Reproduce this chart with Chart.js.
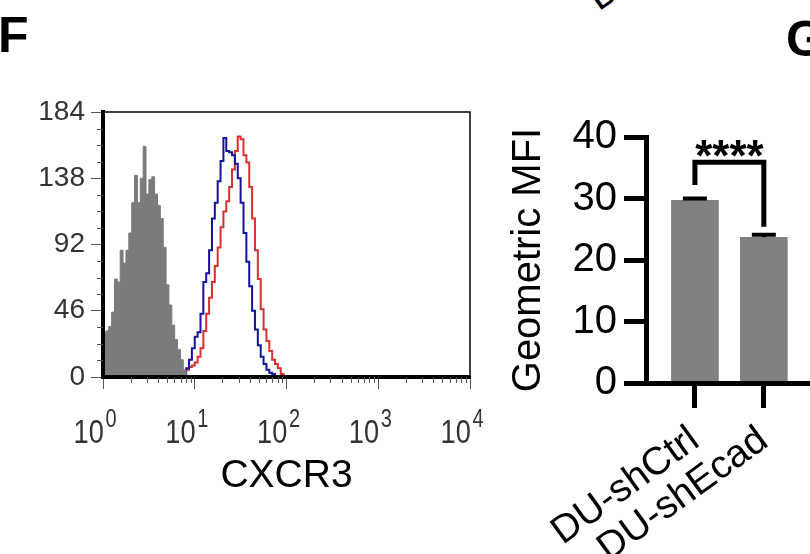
<!DOCTYPE html>
<html lang="en">
<head>
<meta charset="UTF-8" />
<title>CXCR3 / Geometric MFI</title>
<script src="https://cdn.jsdelivr.net/npm/chart.js@4.4.0/dist/chart.umd.min.js"></script>
<style>
  html, body {
    margin: 0;
    padding: 0;
    background: #fff;
    width: 810px;
    height: 554px;
    overflow: hidden;
    position: relative;
    font-family: "Liberation Sans", Arial, sans-serif;
  }
  .panel-label {
    position: absolute;
    font-weight: bold;
    font-size: 50px;
    line-height: 1;
    color: #000;
  }
  .frag {
    position: absolute;
    font-size: 40px;
    line-height: 1;
    transform: rotate(-35deg);
  }
  #wrapF { position: absolute; left: 0; top: 0; width: 500px; height: 554px; }
  #wrapG { position: absolute; left: 490px; top: 0; width: 340px; height: 554px; }
</style>
</head>
<body>
<div class="panel-label" style="left: -2px; top: 10px">F</div>
<div class="panel-label" style="left: 786px; top: 14px">G</div>
<div class="frag" style="left: 588px; top: -28px">D</div>

<div id="wrapF"><canvas id="histChart"></canvas></div>
<div id="wrapG"><canvas id="barChart"></canvas></div>

<script>
// ---- panel F: CXCR3 histograms, counts per channel (32 channels per decade)
const channelsPerDecade = 32;
const decades = [1, 10, 100, 1000, 10000];
const countTicks = [0, 46, 92, 138, 184];

const isoStart = 0;
const isoCounts = [30, 32, 35, 45, 68, 66, 88, 79, 88, 100, 121, 140, 121, 138, 160,
  127, 137, 139, 127, 119, 110, 90, 64, 50, 36, 26, 19, 12, 5];

const ecadStart = 27; // DU-shEcad, blue
const ecadCounts = [1, 3, 6, 12, 20, 28, 31, 44, 66, 72, 88, 110, 121, 136, 150, 166,
  157, 156, 154, 148, 138, 121, 100, 80, 63, 46, 33, 22, 14, 9, 5, 3, 2];

const ctrlStart = 28; // DU-shCtrl, red
const ctrlCounts = [2, 5, 7, 8, 10, 14, 20, 32, 44, 55, 66, 77, 90, 104, 115, 122, 132,
  144, 157, 167, 165, 154, 149, 132, 110, 88, 68, 47, 33, 25, 18, 12, 9, 6, 2];

// ---- panel G: geometric MFI
const groups = ["DU-shCtrl", "DU-shEcad"];
const mfiMean = [29.7, 23.7];
const mfiErr = [0.3, 0.4];
const mfiTicks = [0, 10, 20, 30, 40];
const sigLabel = "****";
const sigBracket = [32.2, 35.9, 25.4]; // left foot, top, right foot

const narrow = '"Liberation Sans Narrow", "Arial Narrow", "Liberation Sans", sans-serif';
const sans = '"Liberation Sans", Arial, sans-serif';

function stepPoints(start, counts) {
  const edge = (i) => Math.pow(10, i / channelsPerDecade);
  const pts = [{ x: edge(start), y: 0 }];
  counts.forEach((c, i) => pts.push({ x: edge(start + i), y: c }));
  pts.push({ x: edge(start + counts.length), y: 0 });
  return pts;
}

// frame, minor ticks and 10^n labels for the histogram
const histExtras = {
  id: "histExtras",
  afterDraw(chart) {
    const { ctx, chartArea: a } = chart;
    const xs = chart.scales.x, ys = chart.scales.y;
    ctx.save();
    ctx.strokeStyle = "#000";
    ctx.lineWidth = 1.5;
    ctx.beginPath();
    ctx.moveTo(a.left, a.top);
    ctx.lineTo(a.right, a.top);
    ctx.lineTo(a.right, a.bottom);
    ctx.stroke();

    ctx.strokeStyle = "#555";
    ctx.lineWidth = 1;
    ctx.beginPath();
    for (let d = 1; d < 10000; d *= 10) {
      for (let m = 2; m < 10; m++) {
        const px = Math.round(xs.getPixelForValue(m * d)) + 0.5;
        ctx.moveTo(px, a.bottom);
        ctx.lineTo(px, a.bottom + 6);
      }
    }
    for (let v = 11.5; v < 184; v += 11.5) {
      if (v % 46 === 0) continue;
      const py = Math.round(ys.getPixelForValue(v)) + 0.5;
      ctx.moveTo(a.left - 6, py);
      ctx.lineTo(a.left, py);
    }
    ctx.stroke();

    ctx.fillStyle = "#333";
    ctx.textBaseline = "alphabetic";
    decades.forEach((v, e) => {
      const px = xs.getPixelForValue(v);
      ctx.save();
      ctx.translate(px, a.bottom);
      ctx.scale(0.8, 1);
      ctx.font = "34px " + narrow;
      ctx.textAlign = "right";
      ctx.fillText("10", 1, 66);
      ctx.font = "25px " + narrow;
      ctx.textAlign = "left";
      ctx.fillText(String(e), 3, 50);
      ctx.restore();
    });
    ctx.restore();
  }
};

new Chart(document.getElementById("histChart"), {
  type: "line",
  data: {
    datasets: [
      {
        label: "Isotype",
        data: stepPoints(isoStart, isoCounts),
        stepped: true,
        fill: "origin",
        backgroundColor: "#7b7b7b",
        borderColor: "#7b7b7b",
        borderWidth: 1,
        pointRadius: 0
      },
      {
        label: "DU-shEcad",
        data: stepPoints(ecadStart, ecadCounts),
        stepped: true,
        fill: false,
        borderColor: "#12129a",
        borderWidth: 2,
        pointRadius: 0
      },
      {
        label: "DU-shCtrl",
        data: stepPoints(ctrlStart, ctrlCounts),
        stepped: true,
        fill: false,
        borderColor: "#d83030",
        borderWidth: 2,
        pointRadius: 0
      }
    ]
  },
  options: {
    responsive: true,
    maintainAspectRatio: false,
    animation: false,
    layout: { padding: { top: 112, right: 30, left: 0, bottom: 0 } },
    plugins: { legend: { display: false }, tooltip: { enabled: false } },
    scales: {
      x: {
        type: "logarithmic",
        min: 1,
        max: 10000,
        afterBuildTicks: (s) => { s.ticks = decades.map((v) => ({ value: v })); },
        afterFit: (s) => { s.height = 177; },
        ticks: { callback: () => "", padding: 0 },
        grid: { drawOnChartArea: false, tickLength: 12, tickColor: "#555", tickWidth: 1 },
        border: { display: true, color: "#000", width: 4, z: 1 },
        title: {
          display: true,
          text: "CXCR3",
          color: "#000",
          font: { family: sans, size: 39 },
          padding: { top: 0, bottom: 54 }
        }
      },
      y: {
        min: 0,
        max: 184,
        afterBuildTicks: (s) => { s.ticks = countTicks.map((v) => ({ value: v })); },
        afterFit: (s) => { s.width = 103; },
        ticks: { color: "#333", font: { family: narrow, size: 28 }, padding: 6 },
        grid: { drawOnChartArea: false, tickLength: 12, tickColor: "#555", tickWidth: 1 },
        border: { display: true, color: "#000", width: 4, z: 1 }
      }
    }
  },
  plugins: [histExtras]
});

// error bars and significance bracket for the bar chart
const barExtras = {
  id: "barExtras",
  afterDatasetsDraw(chart) {
    const { ctx } = chart;
    const xs = chart.scales.x, ys = chart.scales.y;
    ctx.save();
    ctx.strokeStyle = "#000";
    ctx.lineWidth = 4;
    mfiMean.forEach((m, i) => {
      const px = xs.getPixelForValue(i + 1);
      const top = ys.getPixelForValue(m + mfiErr[i]);
      ctx.beginPath();
      ctx.moveTo(px, ys.getPixelForValue(m));
      ctx.lineTo(px, top);
      ctx.moveTo(px - 12, top);
      ctx.lineTo(px + 12, top);
      ctx.stroke();
    });

    const x1 = xs.getPixelForValue(1), x2 = xs.getPixelForValue(2);
    const yTop = ys.getPixelForValue(sigBracket[1]);
    ctx.lineWidth = 5;
    ctx.beginPath();
    ctx.moveTo(x1, ys.getPixelForValue(sigBracket[0]));
    ctx.lineTo(x1, yTop);
    ctx.lineTo(x2, yTop);
    ctx.lineTo(x2, ys.getPixelForValue(sigBracket[2]));
    ctx.stroke();

    ctx.fillStyle = "#000";
    ctx.font = "bold 44px " + sans;
    ctx.textAlign = "center";
    ctx.textBaseline = "alphabetic";
    const m = ctx.measureText(sigLabel);
    ctx.fillText(sigLabel, (x1 + x2) / 2, yTop - 22 + m.actualBoundingBoxAscent);
    ctx.restore();
  }
};

new Chart(document.getElementById("barChart"), {
  type: "bar",
  data: {
    datasets: [{
      label: "Geometric MFI",
      data: mfiMean.map((v, i) => ({ x: i + 1, y: v })),
      backgroundColor: "#808080",
      borderWidth: 0,
      barThickness: 47
    }]
  },
  options: {
    responsive: true,
    maintainAspectRatio: false,
    animation: false,
    layout: { padding: { top: 137, right: 0, left: 0, bottom: 0 } },
    plugins: { legend: { display: false }, tooltip: { enabled: false } },
    scales: {
      x: {
        type: "linear",
        offset: false,
        min: 0.29,
        max: 2.96,
        afterBuildTicks: (s) => { s.ticks = groups.map((g, i) => ({ value: i + 1 })); },
        afterFit: (s) => { s.height = 171; },
        ticks: {
          callback: (v) => groups[v - 1],
          color: "#000",
          font: { family: sans, size: 39 },
          minRotation: 36,
          maxRotation: 36,
          autoSkip: false,
          padding: 9
        },
        grid: { offset: false, drawOnChartArea: false, tickLength: 25, tickColor: "#000", tickWidth: 5 },
        border: { display: true, color: "#000", width: 5, z: 1 }
      },
      y: {
        min: 0,
        max: 40,
        afterBuildTicks: (s) => { s.ticks = mfiTicks.map((v) => ({ value: v })); },
        afterFit: (s) => { s.width = 156; },
        ticks: { color: "#000", font: { family: sans, size: 40 }, padding: 7 },
        grid: { drawOnChartArea: false, tickLength: 22, tickColor: "#000", tickWidth: 5 },
        border: { display: true, color: "#000", width: 5, z: 1 },
        title: {
          display: true,
          text: "Geometric MFI",
          color: "#000",
          font: { family: sans, size: 40 },
          padding: { top: 15, bottom: 0 }
        }
      }
    }
  },
  plugins: [barExtras]
});
</script>
</body>
</html>
